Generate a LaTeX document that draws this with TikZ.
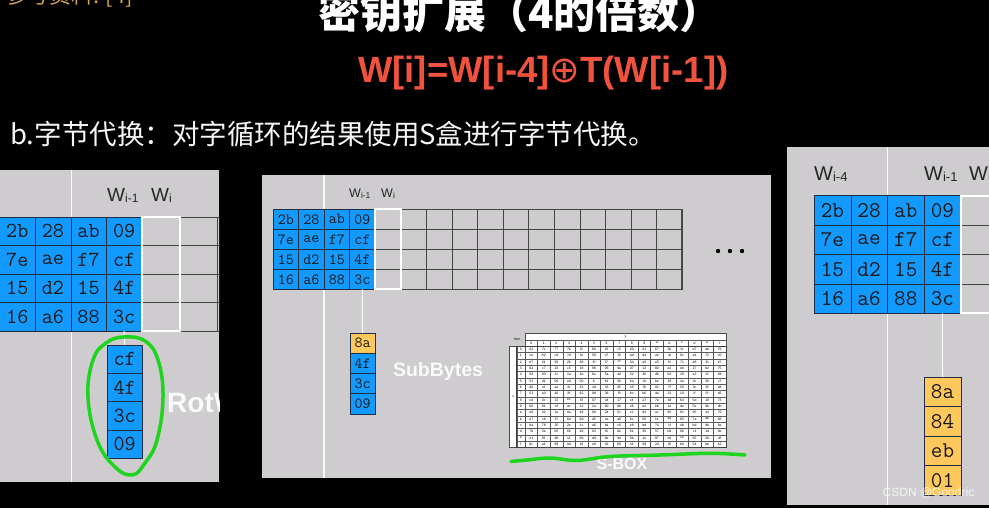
\documentclass[tikz,border=0pt]{standalone}
\usepackage{fontspec}
\setmainfont{Liberation Sans}
\newfontfamily\cjk{Noto Sans CJK SC}
\newfontfamily\symf{DejaVu Sans}
\definecolor{panelgray}{RGB}{206,204,207}
\definecolor{aesblue}{RGB}{18,154,255}
\definecolor{aesyellow}{RGB}{255,200,92}
\definecolor{celledge}{RGB}{35,45,65}
\definecolor{gridline}{RGB}{70,70,70}
\definecolor{formred}{RGB}{240,82,62}
\definecolor{refgold}{RGB}{214,165,78}
\definecolor{scribble}{RGB}{30,212,30}
\newcommand{\Wlab}[3]{{\fontsize{#1}{#1}\selectfont W}{\fontsize{#2}{#2}\selectfont\raisebox{-0.08em}{#3}}}
\tikzset{
  cellbase/.style={rectangle, inner sep=0pt, outer sep=0pt, text=black!90},
  p1cell/.style={cellbase, draw=celledge, fill=aesblue, minimum width=35.6pt, minimum height=28.5pt, font=\ttfamily\fontsize{21.5}{21.5}\selectfont},
  p1gray/.style={cellbase, draw=gridline, fill=panelgray, minimum width=37.3pt, minimum height=28.5pt},
  p1col/.style={p1cell, minimum height=28.3pt},
  p2cell/.style={cellbase, draw=celledge, fill=aesblue, minimum width=25.56pt, minimum height=20pt, font=\ttfamily\fontsize{15.5}{15.5}\selectfont},
  p2gray/.style={cellbase, draw=gridline, fill=panelgray, minimum width=25.56pt, minimum height=20pt},
  p2col/.style={p2cell, minimum height=20.2pt},
  p3cell/.style={cellbase, draw=celledge, fill=aesblue, minimum width=36.7pt, minimum height=29.4pt, font=\ttfamily\fontsize{22.5}{22.5}\selectfont},
  p3gray/.style={cellbase, draw=gridline, fill=panelgray, minimum width=36.7pt, minimum height=29.4pt},
  p3col/.style={p3cell, fill=aesyellow, minimum height=29.5pt},
  guide/.style={draw=white!95!gray, line width=1.3pt},
  link/.style={draw=white!95!gray, line width=1pt},
  wibox/.style={draw=white, line width=2pt},
  wlabel/.style={anchor=base west, inner sep=0pt, text=black!85},
  biglabel/.style={text=white!96!gray, font=\bfseries},
  scrib/.style={draw=scribble, line width=3.5pt, line cap=round, line join=round},
  sbcell/.style={rectangle, draw=black!65, line width=0.3pt, fill=white, inner sep=0pt, outer sep=0pt,
    minimum width=12.56pt, minimum height=6.34pt, font=\fontsize{3.4}{3.4}\selectfont},
}
\begin{document}
\begin{tikzpicture}[x=1pt,y=-1pt]
\useasboundingbox (0,0) rectangle (989,508);
\clip (0,0) rectangle (989,508);
\fill[black] (0,0) rectangle (989,508);

% ---------- header texts ----------
\node[anchor=base west, inner sep=0pt, text=refgold, font=\cjk\fontsize{22}{22}\selectfont] (ref) at (5,4) {参考资料: [4]};
\node[anchor=base, inner sep=0pt, text=white, font=\cjk\bfseries\fontsize{42}{42}\selectfont] (title) at (520,29) {密钥扩展（4的倍数）};
\node[anchor=base west, inner sep=0pt, text=formred, font=\bfseries\fontsize{36.5}{36.5}\selectfont] (formula) at (358,83) {W[i]=W[i-4]{\symf\mdseries ⊕}T(W[i-1])};
\node[anchor=base west, inner sep=0pt, text=white!93!gray, font=\cjk\fontsize{27.5}{27.5}\selectfont] (subtitle) at (10,145) {b.字节代换：对字循环的结果使用S盒进行字节代换。};

% ---------- panel 1 ----------
\begin{scope}
\clip (0,170) rectangle (219,482);
\fill[panelgray] (0,170) rectangle (219,482);
\draw[guide] (71.2,170) -- (71.2,482);
\foreach \r in {1,...,4} \foreach \c in {5,6,7}
  \node[p1gray] (p1g\r\c) at ({142.4+37.3*(\c-5)+18.65},{217+28.5*(\r-0.5)}) {};
\foreach \row [count=\r] in {{2b,28,ab,09},{7e,ae,f7,cf},{15,d2,15,4f},{16,a6,88,3c}}
  \foreach \v [count=\c] in \row
    \node[p1cell] (p1b\r\c) at ({-0.5+35.6*(\c-0.5)},{217+28.5*(\r-0.5)}) {\v};
\draw[wibox] (p1g15.north west) rectangle (p1g45.south east);
\node[wlabel] (p1w1) at (107,202) {\Wlab{19}{12}{i-1}};
\node[wlabel] (p1w0) at (151,202) {\Wlab{19}{12}{i}};
\foreach \v [count=\i] in {cf,4f,3c,09}
  \node[p1col] (p1k\i) at (124.6,{345+28.3*(\i-0.5)}) {\v};
\draw[link] (p1b44.south) -- (p1k1.north);
\node[biglabel, anchor=west, font=\bfseries\fontsize{28}{28}\selectfont, inner sep=0pt] (rotw) at (167,402) {RotWord};
\draw[scrib] plot[smooth cycle, tension=0.7] coordinates {(124,337) (145,341) (158,360) (163,397) (157,440) (145,463) (132,475) (114,466) (97,440) (88,397) (93,360) (106,343)};
\end{scope}

% ---------- panel 2 ----------
\fill[panelgray] (262,175) rectangle (771,478);
\draw[guide] (324.1,175) -- (324.1,478);
\foreach \r in {1,...,4} \foreach \c in {5,...,16}
  \node[p2gray] (p2g\r-\c) at ({273+25.56*(\c-0.5)},{209.3+20*(\r-0.5)}) {};
\foreach \row [count=\r] in {{2b,28,ab,09},{7e,ae,f7,cf},{15,d2,15,4f},{16,a6,88,3c}}
  \foreach \v [count=\c] in \row
    \node[p2cell] (p2b\r\c) at ({273+25.56*(\c-0.5)},{209.3+20*(\r-0.5)}) {\v};
\draw[gridline, line width=1.3pt] (p2g1-8.north east) -- (p2g4-8.south east);
\draw[gridline, line width=1.1pt] (p2g1-5.north west) rectangle (p2g4-16.south east);
\draw[wibox] (p2g1-5.north west) rectangle (p2g4-5.south east);
\node[wlabel] (p2w1) at (349,198) {\Wlab{12.5}{8.5}{i-1}};
\node[wlabel] (p2w0) at (381,198) {\Wlab{12.5}{8.5}{i}};
\fill[black] (718,251) circle (2.2pt) (730,251) circle (2.2pt) (742,251) circle (2.2pt);
\foreach \v/\f [count=\i] in {8a/aesyellow,4f/aesblue,3c/aesblue,09/aesblue}
  \node[p2col, fill=\f] (p2k\i) at (362.5,{333+20.2*(\i-0.5)}) {\v};
\draw[link] (p2b44.south) -- (p2k1.north);
\node[biglabel, font=\bfseries\fontsize{19.5}{19.5}\selectfont, inner sep=0pt] (subbytes) at (438,371) {SubBytes};

% S-box table
\node[rectangle, draw=black!70, line width=0.4pt, fill=white, minimum width=201pt, minimum height=6.7pt, inner sep=0pt, font=\fontsize{3.4}{3.4}\selectfont] (sby) at (625.5,336.65) {y};
\node[inner sep=0pt, font=\fontsize{3.6}{3.6}\selectfont] (sbhex) at (517,339.5) {hex};
\node[rectangle, draw=black!70, line width=0.4pt, fill=white, minimum width=7.2pt, minimum height=101.5pt, inner sep=0pt, font=\fontsize{3.4}{3.4}\selectfont] (sbx) at (513.1,396.75) {x};
\foreach \h [count=\i from 0] in {0,1,2,3,4,5,6,7,8,9,a,b,c,d,e,f} {
  \node[sbcell, minimum height=6pt] (sbc\i) at ({525+12.5625*(\i+0.5)},343) {\h};
  \node[sbcell, minimum width=8.3pt] (sbr\i) at (520.85,{346+6.344*(\i+0.5)}) {\h};
}
\foreach \row [count=\r from 0] in {
{63,7c,77,7b,f2,6b,6f,c5,30,01,67,2b,fe,d7,ab,76},
{ca,82,c9,7d,fa,59,47,f0,ad,d4,a2,af,9c,a4,72,c0},
{b7,fd,93,26,36,3f,f7,cc,34,a5,e5,f1,71,d8,31,15},
{04,c7,23,c3,18,96,05,9a,07,12,80,e2,eb,27,b2,75},
{09,83,2c,1a,1b,6e,5a,a0,52,3b,d6,b3,29,e3,2f,84},
{53,d1,00,ed,20,fc,b1,5b,6a,cb,be,39,4a,4c,58,cf},
{d0,ef,aa,fb,43,4d,33,85,45,f9,02,7f,50,3c,9f,a8},
{51,a3,40,8f,92,9d,38,f5,bc,b6,da,21,10,ff,f3,d2},
{cd,0c,13,ec,5f,97,44,17,c4,a7,7e,3d,64,5d,19,73},
{60,81,4f,dc,22,2a,90,88,46,ee,b8,14,de,5e,0b,db},
{e0,32,3a,0a,49,06,24,5c,c2,d3,ac,62,91,95,e4,79},
{e7,c8,37,6d,8d,d5,4e,a9,6c,56,f4,ea,65,7a,ae,08},
{ba,78,25,2e,1c,a6,b4,c6,e8,dd,74,1f,4b,bd,8b,8a},
{70,3e,b5,66,48,03,f6,0e,61,35,57,b9,86,c1,1d,9e},
{e1,f8,98,11,69,d9,8e,94,9b,1e,87,e9,ce,55,28,df},
{8c,a1,89,0d,bf,e6,42,68,41,99,2d,0f,b0,54,bb,16}}
  \foreach \v [count=\c from 0] in \row
    \node[sbcell] (sb\r-\c) at ({525+12.5625*(\c+0.5)},{346+6.344*(\r+0.5)}) {\v};
\draw[black!75, line width=0.6pt] (sbr0.north west) rectangle (sb15-15.south east);
\node[biglabel, font=\bfseries\fontsize{16}{16}\selectfont, inner sep=0pt] (sboxlabel) at (622,464) {S-BOX};
\draw[scrib] plot[smooth, tension=0.6] coordinates {(511,461.5) (527,460) (550,458) (577,460.5) (610,456.5) (660,455) (710,453.3) (745,455)};

% ---------- panel 3 ----------
\fill[panelgray] (787,147) rectangle (1000,505);
\draw[guide] (887.4,147) -- (887.4,505);
\foreach \r in {1,...,4}
  \node[p3gray] (p3g\r5) at ({814+36.7*4.5},{195.7+29.4*(\r-0.5)}) {};
\foreach \row [count=\r] in {{2b,28,ab,09},{7e,ae,f7,cf},{15,d2,15,4f},{16,a6,88,3c}}
  \foreach \v [count=\c] in \row
    \node[p3cell] (p3b\r\c) at ({814+36.7*(\c-0.5)},{195.7+29.4*(\r-0.5)}) {\v};
\draw[wibox] (p3g15.north west) rectangle (p3g45.south east);
\node[wlabel] (p3w4) at (814,180.5) {\Wlab{20}{13}{i-4}};
\node[wlabel] (p3w1) at (924,180.5) {\Wlab{20}{13}{i-1}};
\node[wlabel] (p3w0) at (969,180.5) {\Wlab{20}{13}{i}};
\foreach \v [count=\i] in {8a,84,eb,01}
  \node[p3col] (p3k\i) at (942.5,{377+29.5*(\i-0.5)}) {\v};
\draw[link] (p3b44.south) -- (p3k1.north);
\node[inner sep=0pt, text=white, opacity=0.8, font=\fontsize{12}{12}\selectfont] (wm) at (928.5,493) {CSDN @Goodric};
\end{tikzpicture}
\end{document}
